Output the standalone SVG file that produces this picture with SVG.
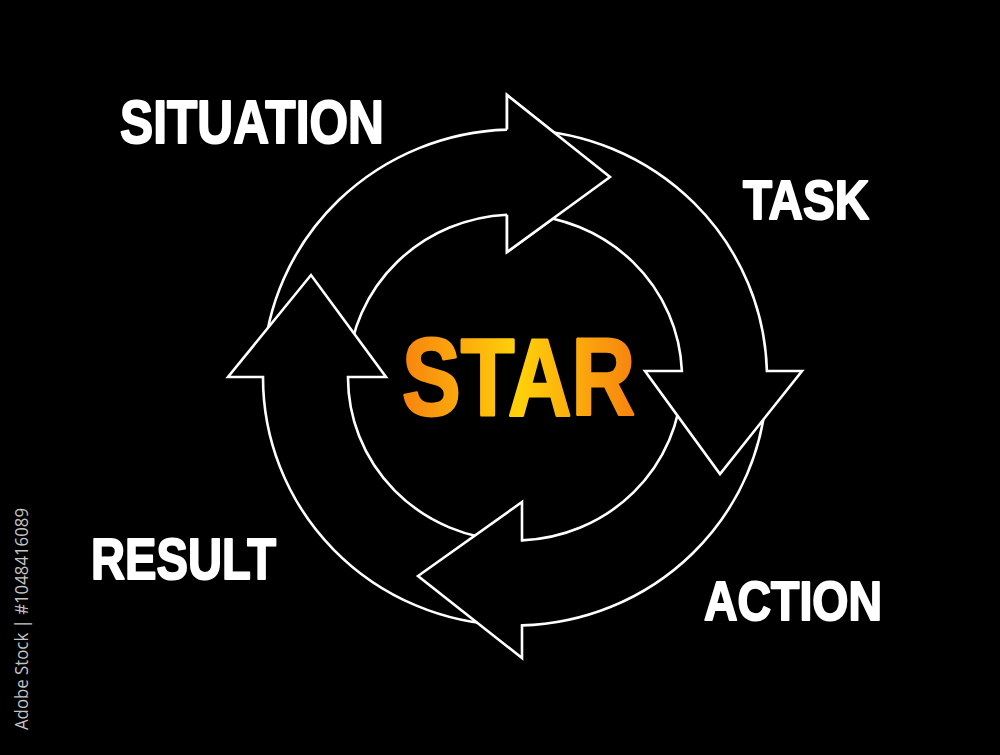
<svg xmlns="http://www.w3.org/2000/svg" width="1000" height="755" viewBox="0 0 1000 755">
  <defs>
    <style>
      .arrow { fill: #000; stroke: #fff; stroke-width: 2.6; stroke-linejoin: miter; }
      .headfill { fill: #000; stroke: none; }
      .headline { fill: none; stroke: #fff; stroke-width: 2.6; stroke-linejoin: miter; }
      .label { font-family: "Liberation Sans", Arial, sans-serif; font-weight: bold; fill: #fff; stroke: #fff; stroke-width: 2; stroke-linejoin: round; }
      .star { font-family: "Liberation Sans", Arial, sans-serif; font-weight: bold; fill: url(#starGrad); stroke: url(#starGrad); stroke-width: 3; stroke-linejoin: round; }
      .credit { font-family: "Open Sans", "Liberation Sans", sans-serif; fill: #c4c4c4; }
    </style>
    <linearGradient id="starGrad" gradientUnits="userSpaceOnUse" x1="400" y1="0" x2="637" y2="0">
      <stop offset="0" stop-color="#F7820F"/>
      <stop offset="0.5" stop-color="#FFD10A"/>
      <stop offset="1" stop-color="#F7820F"/>
    </linearGradient>
  </defs>

  <rect x="0" y="0" width="1000" height="755" fill="#000"/>

  <g id="connectors">
    <path id="arrow-situation-task" class="arrow" d="M263.3,364.5 A252,248 0 0 1 507,129.6 L507,95 L610,177 L507,252 L507,214.7 A167,163 0 0 0 348.2,369 Z"/>
    <path id="arrow-result-situation" class="arrow" d="M506.2,625.3 A252,248 0 0 1 263,377 L228,377 L311,275 L386,377 L348,377 A167,163 0 0 0 509.2,540.4 Z"/>
    <path id="arrow-action-result" class="arrow" d="M766.8,386.2 A252,248 0 0 1 522,625.4 L522,658 L418,576 L522,502 L522,540.4 A167,163 0 0 0 681.9,383.2 Z"/>
    <path id="arrow-task-action" class="arrow" d="M523.8,129.7 A252,248 0 0 1 766.9,371 L802,371 L720,474 L645,371 L681.9,371 A167,163 0 0 0 520.8,214.6 Z"/>
    <path class="headfill" d="M507,129.6 L507,95 L610,177 L507,252 L507,214.7 Z"/>
    <path class="headline" d="M507,129.6 L507,95 L610,177 L507,252 L507,214.7"/>
  </g>

  <g id="node-situation">
    <text class="label" x="120" y="143" font-size="62" textLength="264" lengthAdjust="spacingAndGlyphs">SITUATION</text>
  </g>
  <g id="node-task">
    <text class="label" x="743" y="219" font-size="55" textLength="126" lengthAdjust="spacingAndGlyphs">TASK</text>
  </g>
  <g id="node-action">
    <text class="label" x="704" y="620" font-size="55" textLength="178" lengthAdjust="spacingAndGlyphs">ACTION</text>
  </g>
  <g id="node-result">
    <text class="label" x="91" y="579" font-size="58" textLength="185" lengthAdjust="spacingAndGlyphs">RESULT</text>
  </g>
  <g id="node-star">
    <text class="star" x="402" y="415" font-size="110" textLength="233" lengthAdjust="spacingAndGlyphs">STAR</text>
  </g>

  <g id="credit">
    <text class="credit" transform="translate(28,730) rotate(-90)" x="0" y="0" font-size="18" textLength="222" lengthAdjust="spacingAndGlyphs">Adobe Stock | #1048416089</text>
  </g>
</svg>
